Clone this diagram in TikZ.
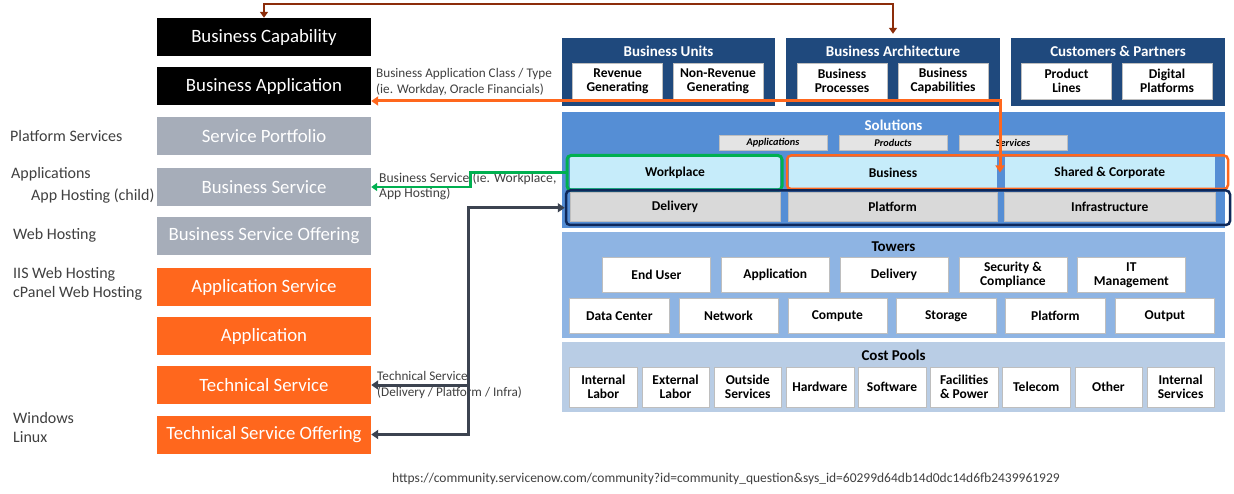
\documentclass[tikz,border=0pt]{standalone}
\usepackage{fontspec}
\setmainfont{Carlito}
\usetikzlibrary{arrows.meta,calc}
\definecolor{dblue}{RGB}{31,73,125}
\definecolor{solblue}{RGB}{85,142,213}
\definecolor{towblue}{RGB}{142,180,227}
\definecolor{costblue}{RGB}{185,205,229}
\definecolor{cyanbox}{RGB}{198,236,250}
\definecolor{greybox}{RGB}{217,217,217}
\definecolor{lgray}{RGB}{166,173,185}
\definecolor{orng}{RGB}{255,103,29}
\definecolor{grn}{RGB}{0,176,80}
\definecolor{navy}{RGB}{14,40,90}
\definecolor{arrgray}{RGB}{60,67,80}
\definecolor{brwn}{RGB}{140,45,10}
\definecolor{txtgray}{RGB}{64,64,64}
\definecolor{boxedge}{RGB}{190,190,190}
\begin{document}
\begin{tikzpicture}[x=1pt,y=-1pt,
  lcol/.style={minimum width=214pt, minimum height=38pt, inner sep=0pt, text=white, font=\fontsize{18.8}{20}\selectfont},
  blackbox/.style={lcol, fill=black},
  graybox/.style={lcol, fill=lgray},
  orangebox/.style={lcol, fill=orng},
  sidelabel/.style={anchor=west, inner sep=0pt, text=txtgray, font=\fontsize{16}{17}\selectfont},
  note/.style={anchor=west, inner sep=0pt, text=txtgray, font=\fontsize{13.2}{16}\selectfont, align=left},
  ptitle/.style={inner sep=0pt, font=\bfseries\fontsize{15}{16}\selectfont},
  wbox/.style={fill=white, draw=boxedge, line width=0.3pt, inner sep=0pt, align=center, font=\bfseries\fontsize{13.5}{14}\selectfont},
  topw/.style={wbox, minimum width=90pt, minimum height=36pt},
  tagbox/.style={fill=greybox!70!white, draw=boxedge, line width=0.3pt, inner sep=0pt, minimum width=108pt, minimum height=15pt, font=\bfseries\itshape\fontsize{10.3}{11}\selectfont},
  cyanrow/.style={wbox, fill=cyanbox, draw=none, minimum height=31pt},
  grayrow/.style={wbox, fill=greybox, draw=boxedge, minimum height=29pt},
  tow1/.style={wbox, minimum width=108pt, minimum height=35pt},
  tow2/.style={wbox, minimum width=99.5pt, minimum height=35pt},
  cost/.style={wbox, minimum width=67.6pt, minimum height=40pt},
  frame/.style={draw, rounded corners=4pt, inner sep=0pt, line width=2.5pt}
]
\useasboundingbox (0,0) rectangle (1234,494);
\fill[white] (0,0) rectangle (1234,494);

% ---------- left column ----------
\node[blackbox] (bc) at (264,37) {Business Capability};
\node[blackbox] (ba) at (264,86) {Business Application};
\node[graybox] (sp) at (264,136.5) {Service Portfolio};
\node[graybox] (bs) at (264,187) {Business Service};
\node[graybox] (bso) at (264,236) {Business Service Offering};
\node[orangebox] (as) at (264,287) {Application Service};
\node[orangebox] (app) at (264,336) {Application};
\node[orangebox] (ts) at (264,385) {Technical Service};
\node[orangebox] (tso) at (264,434.5) {Technical Service Offering};

% side labels
\node[sidelabel] (l1) at (10,136) {Platform Services};
\node[sidelabel] (l2) at (11,174) {Applications};
\node[sidelabel] (l3) at (31,196) {App Hosting (child)};
\node[sidelabel] (l4) at (13,235) {Web Hosting};
\node[sidelabel] (l5) at (13,274) {IIS Web Hosting};
\node[sidelabel] (l6) at (13,293) {cPanel Web Hosting};
\node[sidelabel] (l7) at (13,418) {Windows};
\node[sidelabel] (l8) at (13,437) {Linux};

% ---------- top panels ----------
\node[fill=dblue, minimum width=213pt, minimum height=68pt, inner sep=0pt] (bu) at (668.5,72) {};
\node[fill=dblue, minimum width=214pt, minimum height=68pt, inner sep=0pt] (barch) at (893,72) {};
\node[fill=dblue, minimum width=214pt, minimum height=68pt, inner sep=0pt] (cp) at (1118,72) {};
\node[ptitle, text=white] (bu-t) at (668.5,51.5) {Business Units};
\node[ptitle, text=white] (barch-t) at (893,51.5) {Business Architecture};
\node[ptitle, text=white] (cp-t) at (1118,51.5) {Customers \& Partners};
\node[topw] (rg) at (617.6,81) {Revenue\\Generating};
\node[topw] (nrg) at (718,81) {Non-Revenue\\Generating};
\node[topw] (bp) at (842,81) {Business\\Processes};
\node[topw] (bcap) at (943,81) {Business\\Capabilities};
\node[topw] (pl) at (1066.5,81) {Product\\Lines};
\node[topw] (dp) at (1167,81) {Digital\\Platforms};

% ---------- solutions ----------
\node[fill=solblue, minimum width=663pt, minimum height=116pt, inner sep=0pt] (sol) at (893.5,170) {};
\node[ptitle, text=white] (sol-t) at (893.5,125) {Solutions};
\node[tagbox] (tapp) at (773,142.5) {Applications};
\node[tagbox] (tprod) at (893,142.5) {Products};
\node[tagbox] (tserv) at (1013,142.5) {Services};
\node[cyanrow, minimum width=210pt] (wp) at (675,172.5) {Workplace};
\node[cyanrow, minimum width=208pt] (biz) at (893,172.5) {Business};
\node[cyanrow, minimum width=210.5pt] (sc) at (1109.75,172.5) {Shared \& Corporate};
\node[grayrow, minimum width=210pt] (del) at (675,207) {Delivery};
\node[grayrow, minimum width=209pt] (plat) at (892.5,207) {Platform};
\node[grayrow, minimum width=210.5pt] (inf) at (1109.75,207) {Infrastructure};
\node[frame, draw=grn, line width=3pt, minimum width=215pt, minimum height=34.5pt] (gframe) at (674.5,172.75) {};
\node[frame, draw=orng, minimum width=441pt, minimum height=33.5pt] (oframe) at (1007.5,172.25) {};
\node[frame, draw=navy, minimum width=664pt, minimum height=34.5pt] (nframe) at (898,207.75) {};

% ---------- towers ----------
\node[fill=towblue, minimum width=663pt, minimum height=106pt, inner sep=0pt] (tow) at (893.5,285) {};
\node[ptitle] (tow-t) at (893.5,246.5) {Towers};
\node[tow1] (eu) at (656.4,274.8) {End User};
\node[tow1] (tapl) at (775.3,274.8) {Application};
\node[tow1] (tdel) at (894,274.8) {Delivery};
\node[tow1] (tsec) at (1012.9,274.8) {Security \&\\Compliance};
\node[tow1] (tit) at (1131.3,274.8) {IT\\Management};
\node[tow2] (dc) at (619.3,315.8) {Data Center};
\node[tow2] (net) at (728.5,315.8) {Network};
\node[tow2] (comp) at (837.4,315.8) {Compute};
\node[tow2] (stor) at (946.3,315.8) {Storage};
\node[tow2] (tplat) at (1055.3,315.8) {Platform};
\node[tow2] (outp) at (1164.8,315.8) {Output};

% ---------- cost pools ----------
\node[fill=costblue, minimum width=663pt, minimum height=70pt, inner sep=0pt] (cpool) at (893.5,377) {};
\node[ptitle] (cpool-t) at (893.5,355) {Cost Pools};
\node[cost] (c1) at (603.4,387) {Internal\\Labor};
\node[cost] (c2) at (675.55,387) {External\\Labor};
\node[cost] (c3) at (747.7,387) {Outside\\Services};
\node[cost] (c4) at (819.85,387) {Hardware};
\node[cost] (c5) at (892,387) {Software};
\node[cost] (c6) at (964.15,387) {Facilities\\\& Power};
\node[cost] (c7) at (1036.3,387) {Telecom};
\node[cost] (c8) at (1108.45,387) {Other};
\node[cost] (c9) at (1180.6,387) {Internal\\Services};

% ---------- annotations ----------
\node[note] (n1) at (376,82) {Business Application Class / Type\\(ie. Workday, Oracle Financials)};
\node[note, font=\fontsize{13.6}{15.5}\selectfont] (n2) at (379,186) {Business Service (ie. Workplace,\\App Hosting)};
\node[note] (n3) at (377,385) {Technical Service\\(Delivery / Platform / Infra)};
\node[inner sep=0pt, text=txtgray, font=\fontsize{13.5}{15}\selectfont] (url) at (726,479) {https://community.servicenow.com/community?id=community\_question\&sys\_id=60299d64db14d0dc14d6fb2439961929};

% ---------- connectors ----------
\coordinate (brtop) at (892,4);
\draw[brwn, line width=2pt, {Triangle[length=6pt,width=8pt]}-{Triangle[length=6pt,width=8pt]}, shorten >=4pt] (bc.north) |- (brtop) -| (barch.north);

\coordinate (ocorner) at (1000,101);
\draw[orng, line width=3pt, {Triangle[length=7pt,width=9pt]}-{Triangle[length=7pt,width=9pt]}] (ocorner -| ba.east) -- (ocorner) -- (ocorner |- biz.east);

\coordinate (gx) at (470.5,172.75);
\draw[grn, line width=2.5pt, -{Triangle[length=6pt,width=8pt]}] (gframe.west) -- (gx) |- (bs.east);

\coordinate (gy) at (468,207.75);
\draw[arrgray, line width=3pt, -{Triangle[length=7pt,width=9pt]}] (gy) -- (nframe.west);
\draw[arrgray, line width=3pt, -{Triangle[length=7pt,width=9pt]}] ([yshift=1.5pt]gy) |- (tso.east);
\draw[arrgray, line width=3pt, -{Triangle[length=7pt,width=9pt]}] (gy |- ts.east) -- (ts.east);
\end{tikzpicture}
\end{document}
